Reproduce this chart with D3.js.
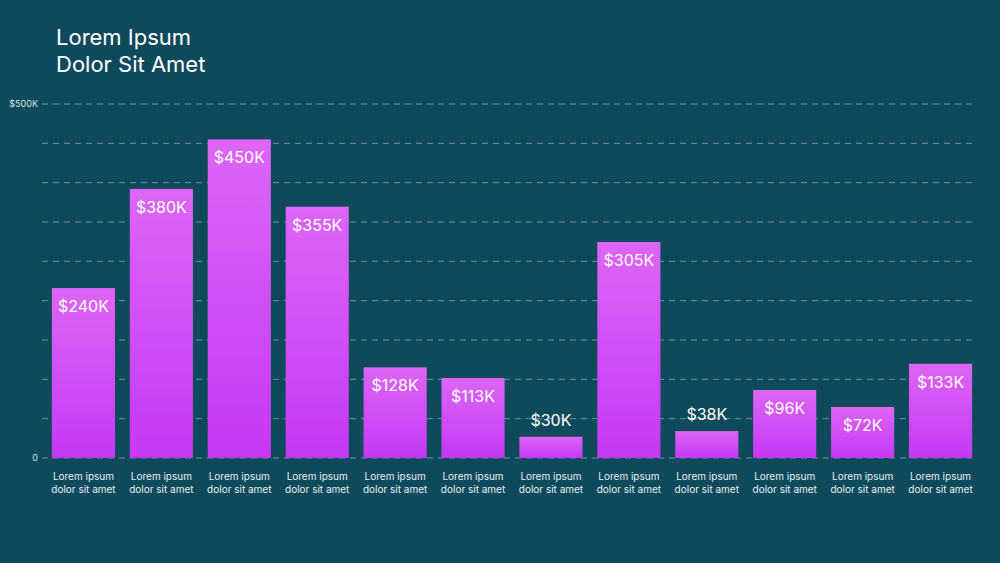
<!DOCTYPE html><html><head><meta charset="utf-8"><script src="https://cdn.jsdelivr.net/npm/d3@7"></script>
<style>body{margin:0;background:#0e4a5b}svg{display:block;font-family:Inter,"Open Sans",sans-serif}</style></head><body><svg id="c" width="1000" height="563"></svg><script>
const categories=["Lorem ipsum|dolor sit amet","Lorem ipsum|dolor sit amet","Lorem ipsum|dolor sit amet","Lorem ipsum|dolor sit amet","Lorem ipsum|dolor sit amet","Lorem ipsum|dolor sit amet","Lorem ipsum|dolor sit amet","Lorem ipsum|dolor sit amet","Lorem ipsum|dolor sit amet","Lorem ipsum|dolor sit amet","Lorem ipsum|dolor sit amet","Lorem ipsum|dolor sit amet"];
const values=[240,380,450,355,128,113,30,305,38,96,72,133];
const labels=["$240K","$380K","$450K","$355K","$128K","$113K","$30K","$305K","$38K","$96K","$72K","$133K"];
const gridTicks=d3.range(0,10).map(i=>i*500/9);
const tickLabels={0:"0",500:"$500K"};
const svg=d3.select("#c");
svg.append("rect").attr("width",1000).attr("height",563).attr("fill","#0e4a5b");
const defs=svg.append("defs");
const g=defs.append("linearGradient").attr("id","bg").attr("x1",0).attr("y1",0).attr("x2",0).attr("y2",1);
g.append("stop").attr("offset","0%").attr("stop-color","#dc66f7");
g.append("stop").attr("offset","100%").attr("stop-color","#c638f5");
const x=d3.scaleBand().domain(d3.range(12)).range([44.5,979.5]).paddingInner(0.19).paddingOuter(0.095);
const y=d3.scaleLinear().domain([0,500]).range([458,104]);
svg.selectAll(".gl").data(gridTicks).join("line").attr("x1",42).attr("x2",975).attr("y1",d=>y(d)).attr("y2",d=>y(d)).attr("stroke","#7fa3ad").attr("stroke-width",1).attr("stroke-dasharray","6,5").attr("opacity",0.8);
svg.selectAll(".tl").data([0,500]).join("text").attr("x",38).attr("y",d=>y(d)+3).attr("text-anchor","end").attr("fill","#d8e6ea").attr("font-size",9).text(d=>tickLabels[d]);
svg.selectAll(".bar").data(values).join("rect").attr("x",(d,i)=>x(i)).attr("width",x.bandwidth()).attr("y",d=>y(d)).attr("height",d=>y(0)-y(d)).attr("fill","url(#bg)");
svg.selectAll(".vl").data(values).join("text").attr("x",(d,i)=>x(i)+x.bandwidth()/2).attr("y",d=>(y(0)-y(d)<40)?y(d)-11:y(d)+24).attr("text-anchor","middle").attr("fill","#fff").attr("font-size",16).text((d,i)=>labels[i]);
const cl=svg.selectAll(".cl").data(categories).join("text").attr("text-anchor","middle").attr("fill","#e8f0f2").attr("font-size",10);
cl.each(function(d,i){const t=d3.select(this);d.split("|").forEach((s,k)=>t.append("tspan").attr("x",x(i)+x.bandwidth()/2).attr("y",480+k*13).text(s));});
svg.append("text").attr("x",56).attr("y",45).attr("fill","#fff").attr("font-size",22).text("Lorem Ipsum");
svg.append("text").attr("x",56).attr("y",72).attr("fill","#fff").attr("font-size",22).text("Dolor Sit Amet");
</script></body></html>
